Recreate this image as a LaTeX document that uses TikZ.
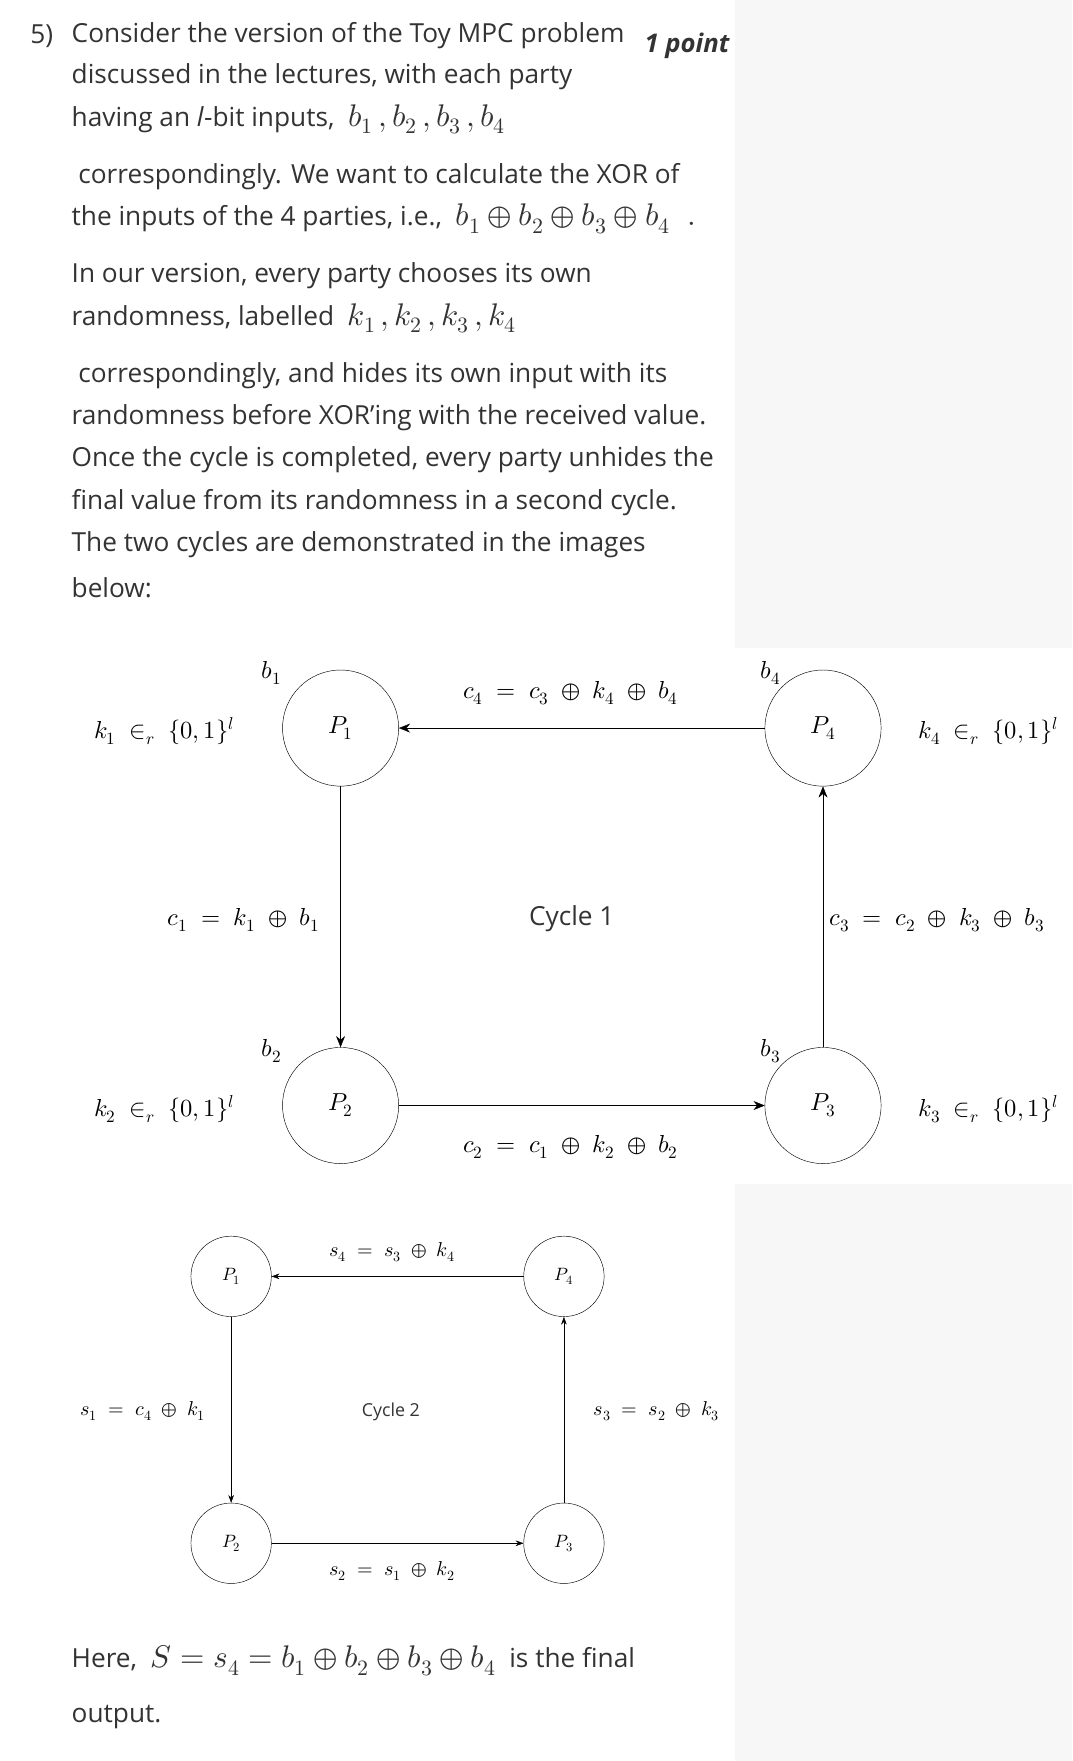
\documentclass[tikz,border=0pt]{standalone}
\usepackage{fontspec}
\setmainfont{Open Sans}
\usepackage{unicode-math}
\setmathfont{Latin Modern Math}
\usetikzlibrary{arrows.meta}
\newcommand{\bm}[1]{{\fontsize{28}{30}\selectfont$#1$}}
\begin{document}
\begin{tikzpicture}[x=1pt,y=-1pt,
  txt/.style={anchor=west,inner sep=0pt,font=\fontsize{23.5}{26}\selectfont,text=black!80},
  big/.style={circle,draw,minimum size=104pt,inner sep=0pt,font=\fontsize{22}{24}\selectfont},
  small/.style={circle,draw,minimum size=72pt,inner sep=0pt,font=\fontsize{16}{18}\selectfont},
  lab/.style={inner sep=0pt,font=\fontsize{22}{24}\selectfont},
  slab/.style={inner sep=0pt,font=\fontsize{18}{20}\selectfont},
  arr/.style={-{Stealth[length=10pt,width=8pt]},thin},
  sarr/.style={-{Stealth[length=7pt,width=5pt]},thin}]
\useasboundingbox (0,0) rectangle (960,1577);
\fill[black!3] (658,0) rectangle (960,580);
\fill[black!3] (658,1060) rectangle (960,1577);
\node[txt] (n5) at (27,32) {5)};
\node[txt] (l1) at (64,32) {Consider the version of the Toy MPC problem};
\node[anchor=west,inner sep=0pt,font=\fontsize{23}{26}\selectfont\bfseries\itshape,text=black!80] (pt) at (577,41) {1 point};
\node[txt] (l2) at (64,69) {discussed in the lectures, with each party};
\node[txt] (l3) at (64,107) {having an \textit{l}-bit inputs, \ \bm{b_1\,,b_2\,,b_3\,,b_4}};
\node[txt] (l4) at (70,158) {correspondingly. We want to calculate the XOR of};
\node[txt] (l5) at (64,196) {the inputs of the 4 parties, i.e., \ \bm{b_1\oplus b_2\oplus b_3\oplus b_4\;\;.}};
\node[txt] (l6) at (64,247) {In our version, every party chooses its own};
\node[txt] (l7) at (64,285) {randomness, labelled \ \bm{k_1\,,k_2\,,k_3\,,k_4}};
\node[txt] (l8) at (70,336) {correspondingly, and hides its own input with its};
\node[txt] (l9) at (64,374) {randomness before XOR'ing with the received value.};
\node[txt] (l10) at (64,412) {Once the cycle is completed, every party unhides the};
\node[txt] (l11) at (64,450) {final value from its randomness in a second cycle.};
\node[txt] (l12) at (64,488) {The two cycles are demonstrated in the images};
\node[txt] (l13) at (64,526) {below:};
% cycle 1
\node[big] (A1) at (305,652) {$P_1$};
\node[big] (A2) at (305,990) {$P_2$};
\node[big] (A4) at (737,652) {$P_4$};
\node[big] (A3) at (737,990) {$P_3$};
\draw[arr] (A4) -- (A1);
\draw[arr] (A1) -- (A2);
\draw[arr] (A2) -- (A3);
\draw[arr] (A3) -- (A4);
\node[lab] (b1) at (243,603) {$b_1$};
\node[lab] (b2) at (243,941) {$b_2$};
\node[lab] (b4) at (690,603) {$b_4$};
\node[lab] (b3) at (690,941) {$b_3$};
\node[lab] (k1) at (147,655) {$k_1\;\in_r\;\{0,1\}^l$};
\node[lab] (k2) at (147,993) {$k_2\;\in_r\;\{0,1\}^l$};
\node[lab] (k4) at (885,655) {$k_4\;\in_r\;\{0,1\}^l$};
\node[lab] (k3) at (885,993) {$k_3\;\in_r\;\{0,1\}^l$};
\node[lab] (c4) at (511,621) {$c_4\;=\;c_3\;\oplus\;k_4\;\oplus\;b_4$};
\node[lab] (c1) at (218,824) {$c_1\;=\;k_1\;\oplus\;b_1$};
\node[lab] (c2) at (511,1027) {$c_2\;=\;c_1\;\oplus\;k_2\;\oplus\;b_2$};
\node[lab] (c3) at (839,824) {$c_3\;=\;c_2\;\oplus\;k_3\;\oplus\;b_3$};
\node[txt,anchor=center] (cy1) at (512,823) {Cycle 1};
% cycle 2
\node[small] (B1) at (207,1143) {$P_1$};
\node[small] (B2) at (207,1382) {$P_2$};
\node[small] (B4) at (505,1143) {$P_4$};
\node[small] (B3) at (505,1382) {$P_3$};
\draw[sarr] (B4) -- (B1);
\draw[sarr] (B1) -- (B2);
\draw[sarr] (B2) -- (B3);
\draw[sarr] (B3) -- (B4);
\node[slab] (s4) at (351,1121) {$s_4\;=\;s_3\;\oplus\;k_4$};
\node[slab] (s1) at (128,1264) {$s_1\;=\;c_4\;\oplus\;k_1$};
\node[slab] (s2) at (351,1407) {$s_2\;=\;s_1\;\oplus\;k_2$};
\node[slab] (s3) at (588,1264) {$s_3\;=\;s_2\;\oplus\;k_3$};
\node[anchor=center,inner sep=0pt,font=\fontsize{16}{18}\selectfont,text=black!80] (cy2) at (350,1264) {Cycle 2};
\node[txt] (h1) at (64,1487) {Here, \ \bm{S=s_4=b_1\oplus b_2\oplus b_3\oplus b_4} \ is the final};
\node[txt] (h2) at (64,1538) {output.};
\end{tikzpicture}
\end{document}
